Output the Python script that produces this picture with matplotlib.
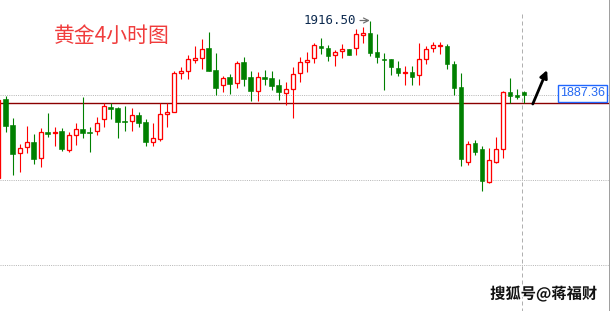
import matplotlib
matplotlib.use("Agg")
import matplotlib.pyplot as plt
import matplotlib.patheffects as pe
from matplotlib.patches import Rectangle
import numpy as np

# 4h gold candles, first one is mostly cut off at the left edge
opens = [1860.8, 1888.8, 1879.6, 1869.6, 1871.7, 1873.6, 1867.8, 1877.2, 1876.6, 1877.5,
         1870.8, 1875.9, 1878.2, 1877.2, 1877.3, 1881.8, 1885.9, 1885.5, 1881.0, 1880.9,
         1883.0, 1880.6, 1873.5, 1874.7, 1883.4, 1884.1, 1897.8, 1898.6, 1902.7, 1903.1,
         1906.7, 1899.0, 1893.6, 1896.4, 1894.3, 1901.8, 1896.4, 1891.5, 1896.4, 1896.1,
         1893.6, 1890.8, 1892.4, 1897.8, 1901.9, 1903.4, 1907.6, 1906.7, 1904.2, 1905.8,
         1906.4, 1906.9, 1911.5, 1912.1, 1905.4, 1903.0, 1902.8, 1899.6, 1898.0, 1898.3,
         1897.1, 1902.8, 1906.7, 1907.4, 1907.5, 1901.1, 1893.0, 1866.6, 1873.1, 1871.1,
         1859.5, 1866.6, 1871.0, 1891.2, 1890.1, 1891.3]
highs = [1889.1, 1889.9, 1882.2, 1872.8, 1879.2, 1876.4, 1878.4, 1883.9, 1878.9, 1878.4,
         1877.1, 1880.4, 1889.6, 1879.0, 1882.4, 1887.2, 1887.2, 1885.8, 1886.3, 1885.6,
         1884.1, 1881.6, 1880.2, 1887.2, 1887.2, 1898.7, 1900.0, 1904.3, 1907.5, 1910.0,
         1912.4, 1905.0, 1896.9, 1897.6, 1902.2, 1903.6, 1898.7, 1898.2, 1898.9, 1898.7,
         1895.8, 1894.8, 1900.0, 1903.5, 1905.3, 1908.6, 1910.2, 1907.8, 1906.0, 1908.3,
         1906.4, 1913.4, 1914.2, 1916.5, 1911.7, 1904.9, 1903.0, 1902.1, 1900.5, 1900.5,
         1908.4, 1907.5, 1908.9, 1909.0, 1908.2, 1902.1, 1898.0, 1873.9, 1874.3, 1872.0,
         1871.4, 1875.2, 1891.6, 1896.1, 1892.3, 1891.6]
lows = [1859.1, 1877.2, 1861.9, 1863.1, 1869.8, 1865.8, 1864.8, 1875.4, 1872.3, 1870.4,
        1870.1, 1872.4, 1875.1, 1870.1, 1876.1, 1879.0, 1881.8, 1875.1, 1877.6, 1877.6,
        1879.0, 1872.3, 1872.3, 1874.0, 1879.0, 1884.1, 1895.9, 1895.9, 1901.6, 1899.5,
        1898.8, 1890.1, 1891.3, 1890.6, 1892.8, 1893.4, 1888.2, 1888.2, 1893.8, 1891.9,
        1888.5, 1886.6, 1882.2, 1894.7, 1898.4, 1901.4, 1904.8, 1902.3, 1900.5, 1903.3,
        1904.4, 1904.4, 1908.7, 1904.1, 1901.6, 1892.0, 1897.4, 1897.0, 1893.8, 1893.8,
        1893.8, 1901.0, 1905.5, 1904.8, 1899.5, 1890.2, 1865.2, 1865.4, 1869.1, 1856.2,
        1859.2, 1866.1, 1868.0, 1887.3, 1888.8, 1887.3]
closes = [1888.4, 1879.3, 1869.3, 1871.3, 1873.6, 1867.6, 1877.0, 1876.5, 1877.2, 1871.1,
          1876.0, 1878.2, 1876.9, 1876.9, 1880.2, 1886.2, 1885.2, 1880.7, 1880.8, 1883.0,
          1880.4, 1873.5, 1874.9, 1883.4, 1884.1, 1897.8, 1898.6, 1902.8, 1903.1, 1906.3,
          1898.8, 1892.8, 1896.1, 1894.2, 1901.4, 1895.7, 1891.7, 1896.4, 1895.8, 1893.5,
          1891.1, 1892.4, 1897.5, 1901.7, 1902.4, 1907.7, 1906.7, 1904.1, 1905.5, 1906.3,
          1904.4, 1911.7, 1912.1, 1905.1, 1903.5, 1902.5, 1900.0, 1898.1, 1898.3, 1896.6,
          1902.8, 1906.3, 1907.7, 1907.8, 1901.2, 1892.8, 1867.7, 1872.8, 1870.0, 1859.9,
          1867.1, 1871.0, 1891.2, 1889.9, 1889.5, 1890.3]

last_price = 1887.36
high_label = 1916.50
grid_levels = [1890, 1860, 1830]
title = "黄金4小时图"
watermark = "搜狐号@蒋福财"

UP = "#ff0000"
DOWN = "#008000"
PX = 0.72  # one pixel in points at dpi 100

fig = plt.figure(figsize=(6.11, 3.11), dpi=100)
fig.patch.set_facecolor("white")
ax = fig.add_axes([0, 0, 608.5 / 611, 1])
ax.set_xlim(-0.786, 86.07)
ax.set_ylim(1813.84, 1923.75)
for s in ["left", "top", "bottom"]:
    ax.spines[s].set_visible(False)
ax.spines["right"].set_color("#a0a0a0")
ax.spines["right"].set_linewidth(PX)
ax.set_xticks([])
ax.set_yticks([])

# dotted price grid + dashed time marker
for g in grid_levels:
    ax.axhline(g, color="#b8b8b8", lw=PX, ls=(0, (1, 1.2)), zorder=1)
ax.plot([73.71, 73.71], [1800, 1919.2], color="#b0b0b0", lw=PX, ls=(0, (4, 3)), zorder=1)
ax.axhline(last_price, color="#8b0000", lw=1.0, zorder=2)

xs = np.arange(len(opens)) - 1
for x, o, h, l, c in zip(xs, opens, highs, lows, closes):
    up = c >= o
    col = UP if up else DOWN
    ax.vlines(x, l, h, color=col, lw=PX * 1.1, zorder=3)
    bottom, height = min(o, c), abs(c - o)
    if up:
        ax.add_patch(Rectangle((x - 0.285, bottom), 0.57, height,
                               facecolor="white", edgecolor=col, lw=PX * 1.3, zorder=4))
    else:
        ax.add_patch(Rectangle((x - 0.32, bottom), 0.64, height,
                               facecolor=col, edgecolor=col, lw=PX * 0.6, zorder=4))

# max price marker
hi_idx = int(np.argmax(highs)) - 1
ax.annotate(f"{high_label:.2f}", xy=(hi_idx, high_label), xytext=(-14, 0),
            textcoords="offset pixels", ha="right", va="center",
            fontsize=9, family="DejaVu Sans Mono", color="#0d2a4f",
            arrowprops=dict(arrowstyle="->", color="#707070", lw=PX * 1.2,
                            shrinkA=1, shrinkB=0), zorder=6)

# current price tag on the right
fig.text(582.5 / 611, 1 - 93.5 / 311, f"{last_price:.2f}", ha="center", va="center",
         fontsize=9, family="Liberation Sans", color="#2468f2",
         bbox=dict(boxstyle="square,pad=0.17", fc="white", ec="#1f66ff", lw=1.0))

# black up arrow
ax.annotate("", xy=(77.31, 1899.0), xytext=(75.26, 1887.0),
            arrowprops=dict(arrowstyle="-|>", color="black", lw=2.0,
                            mutation_scale=11, shrinkA=0, shrinkB=0), zorder=7)

fig.text(54 / 611, 1 - 36 / 311, title, ha="left", va="center", fontsize=15,
         family=["Noto Sans CJK SC", "DejaVu Sans"], color="#f03c3c")

fig.text(597 / 611, 1 - 294 / 311, watermark, ha="right", va="center", fontsize=11,
         family=["Noto Sans CJK SC", "DejaVu Sans"], weight="bold", color="#111111",
         path_effects=[pe.withStroke(linewidth=2, foreground="white")])

fig.savefig("out.png", dpi=100, facecolor="white")
